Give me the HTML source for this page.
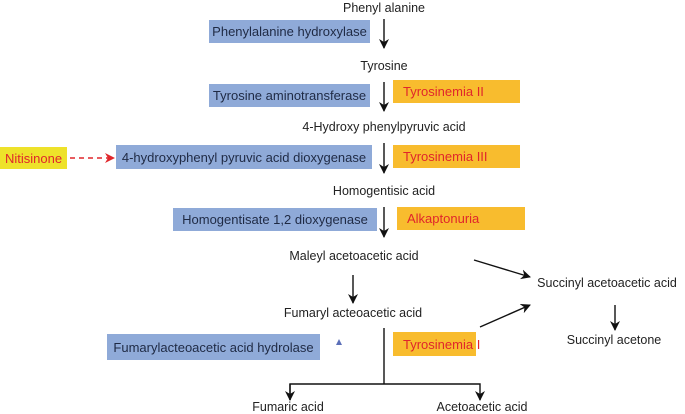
<!DOCTYPE html>
<html><head><style>
body{margin:0;width:685px;height:414px;background:#fff;position:relative;font-family:"Liberation Sans",sans-serif;overflow:hidden}
.t{position:absolute;font-size:12.5px;color:#222;white-space:nowrap;transform:translateX(-50%)}
.b{position:absolute;background:#8faad8;color:#1f2a44;font-size:13px;display:flex;align-items:center;justify-content:center;white-space:nowrap}
.o{position:absolute;background:#f8bc2e;color:#e0262b;font-size:13px;display:flex;align-items:center;padding-left:10px;box-sizing:border-box;white-space:nowrap}
svg{position:absolute;left:0;top:0}
</style></head><body>
<svg width="685" height="414">
<defs>
<marker id="a" markerWidth="10" markerHeight="10" refX="9" refY="5" orient="auto" markerUnits="userSpaceOnUse"><path d="M0,0 L10,5 L0,10 L3,5 Z" fill="#111"/></marker>
<marker id="r" markerWidth="10" markerHeight="10" refX="9" refY="5" orient="auto" markerUnits="userSpaceOnUse"><path d="M0,0 L10,5 L0,10 L3,5 Z" fill="#e0262b"/></marker>
</defs>
<g stroke="#111" stroke-width="1.4" fill="none">
<line x1="384" y1="19" x2="384" y2="48" marker-end="url(#a)"/>
<line x1="384" y1="82" x2="384" y2="111" marker-end="url(#a)"/>
<line x1="384" y1="143" x2="384" y2="173" marker-end="url(#a)"/>
<line x1="384" y1="207" x2="384" y2="237" marker-end="url(#a)"/>
<line x1="353" y1="275" x2="353" y2="303" marker-end="url(#a)"/>
<line x1="474" y1="260" x2="530" y2="277" marker-end="url(#a)"/>
<line x1="480" y1="327" x2="530" y2="305" marker-end="url(#a)"/>
<line x1="615" y1="305" x2="615" y2="330" marker-end="url(#a)"/>
<line x1="384" y1="328" x2="384" y2="384"/>
<polyline points="290,400 290,384 480,384 480,400" marker-end="url(#a)"/>
<line x1="290" y1="384" x2="290" y2="400" marker-end="url(#a)"/>
</g>
<line x1="70" y1="158" x2="114" y2="158" stroke="#e0262b" stroke-width="1.4" stroke-dasharray="5,4" marker-end="url(#r)"/>
<path d="M336,345 L339,339 L342,345 Z" fill="#5b6fb8"/>
</svg>
<div class="t" style="left:384px;top:1px">Phenyl alanine</div>
<div class="t" style="left:384px;top:59px">Tyrosine</div>
<div class="t" style="left:384px;top:120px">4-Hydroxy phenylpyruvic acid</div>
<div class="t" style="left:384px;top:184px">Homogentisic acid</div>
<div class="t" style="left:354px;top:249px">Maleyl acetoacetic acid</div>
<div class="t" style="left:353px;top:306px">Fumaryl acteoacetic acid</div>
<div class="t" style="left:607px;top:276px">Succinyl acetoacetic acid</div>
<div class="t" style="left:614px;top:333px">Succinyl acetone</div>
<div class="t" style="left:288px;top:400px">Fumaric acid</div>
<div class="t" style="left:482px;top:400px">Acetoacetic acid</div>
<div class="b" style="left:209px;top:20px;width:161px;height:23px">Phenylalanine hydroxylase</div>
<div class="b" style="left:209px;top:84px;width:161px;height:23px">Tyrosine aminotransferase</div>
<div class="b" style="left:116px;top:145px;width:256px;height:24px">4-hydroxyphenyl pyruvic acid dioxygenase</div>
<div class="b" style="left:173px;top:208px;width:204px;height:23px">Homogentisate 1,2 dioxygenase</div>
<div class="b" style="left:107px;top:334px;width:213px;height:26px">Fumarylacteoacetic acid hydrolase</div>
<div class="o" style="left:393px;top:80px;width:127px;height:23px">Tyrosinemia II</div>
<div class="o" style="left:393px;top:145px;width:127px;height:23px">Tyrosinemia III</div>
<div class="o" style="left:397px;top:207px;width:128px;height:23px">Alkaptonuria</div>
<div class="o" style="left:393px;top:332px;width:83px;height:24px">Tyrosinemia I</div>
<div class="o" style="left:0;top:147px;width:67px;height:22px;background:#eee22a;padding-left:5px">Nitisinone</div>
</body></html>
